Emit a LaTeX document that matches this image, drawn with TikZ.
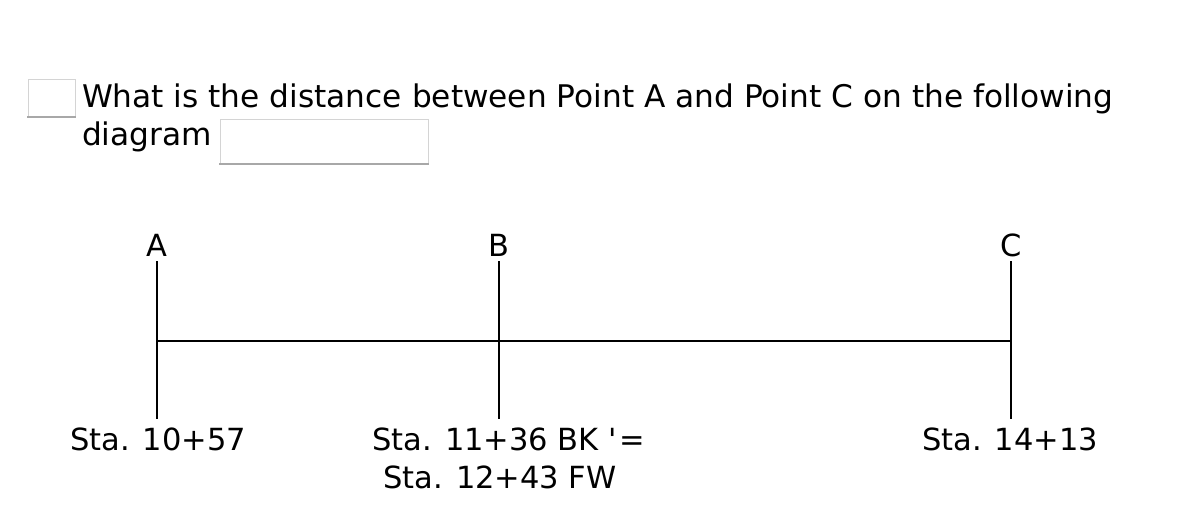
\documentclass[tikz,border=0pt]{standalone}
\usepackage{xcolor}
\usepackage{fontspec}
\setmainfont{DejaVu Sans}
\newfontfamily\rawfont{DejaVu Sans}

\begin{document}
\begin{tikzpicture}[x=1pt,y=-1pt,line cap=rect]
\def\qfontA#1{{\fontsize{30.5pt}{30.5pt}\selectfont #1}} % labels
\def\qfontB#1{{\fontsize{31.2pt}{31.2pt}\selectfont #1}} % question
\definecolor{custcol_0_0_0}{RGB}{0, 0, 0}
\definecolor{custcol_d4_d4_d4}{RGB}{212, 212, 212}
\definecolor{custcol_a8_a8_a8}{RGB}{168, 168, 168}
\useasboundingbox [fill=white] (0.0,0.0) rectangle (1202.0,528.0);
% answer boxes
\draw [line width=1.0pt, custcol_d4_d4_d4 ]  (28.0,79.0) rectangle (75.0,116.0) ;
\draw [line width=2.0pt, custcol_a8_a8_a8 ]  (28.0,117.0) -- (75.0,117.0) ;
\draw [line width=1.0pt, custcol_d4_d4_d4 ]  (220.0,119.0) rectangle (428.0,163.0) ;
\draw [line width=2.0pt, custcol_a8_a8_a8 ]  (220.0,164.0) -- (428.0,164.0) ;
% question
\node[inner sep=0, outer sep=0, custcol_0_0_0, anchor=base west] (line1) at  (82.0,107.0)  {\qfontB{What is the distance between Point A and Point C on the following}};
\node[inner sep=0, outer sep=0, custcol_0_0_0, anchor=base west] (line2) at  (82.0,145.0)  {\qfontB{diagram}};
% stations
\coordinate (topA) at (157.0,262.0);
\coordinate (midA) at (157.0,341.0);
\coordinate (botA) at (157.0,418.0);
\coordinate (topB) at (499.0,262.0);
\coordinate (midB) at (499.0,341.0);
\coordinate (botB) at (499.0,418.0);
\coordinate (topC) at (1011.0,262.0);
\coordinate (midC) at (1011.0,341.0);
\coordinate (botC) at (1011.0,418.0);
\draw [line width=2.0pt, custcol_0_0_0 ]  (midA) -- (midB) -- (midC) ;
\draw [line width=2.0pt, custcol_0_0_0 ]  (topA) -- (botA) ;
\draw [line width=2.0pt, custcol_0_0_0 ]  (topB) -- (botB) ;
\draw [line width=2.0pt, custcol_0_0_0 ]  (topC) -- (botC) ;
\node[inner sep=0, outer sep=0, custcol_0_0_0, anchor=base] (labA) at  (157.0,256.0)  {\qfontA{A}};
\node[inner sep=0, outer sep=0, custcol_0_0_0, anchor=base] (labB) at  (499.0,256.0)  {\qfontA{B}};
\node[inner sep=0, outer sep=0, custcol_0_0_0, anchor=base] (labC) at  (1011.0,256.0)  {\qfontA{C}};
\node[inner sep=0, outer sep=0, custcol_0_0_0, anchor=base] (staA) at  (158.0,450.0)  {\qfontA{Sta. 10+57}};
\node[inner sep=0, outer sep=0, custcol_0_0_0, anchor=base] (staB) at  (509.0,450.0)  {\qfontA{Sta. 11+36 BK {\rawfont'}\kern3pt=}};
\node[inner sep=0, outer sep=0, custcol_0_0_0, anchor=base] (staB2) at  (500.0,488.0)  {\qfontA{Sta. 12+43 FW}};
\node[inner sep=0, outer sep=0, custcol_0_0_0, anchor=base] (staC) at  (1010.0,450.0)  {\qfontA{Sta. 14+13}};
\end{tikzpicture}
\end{document}
